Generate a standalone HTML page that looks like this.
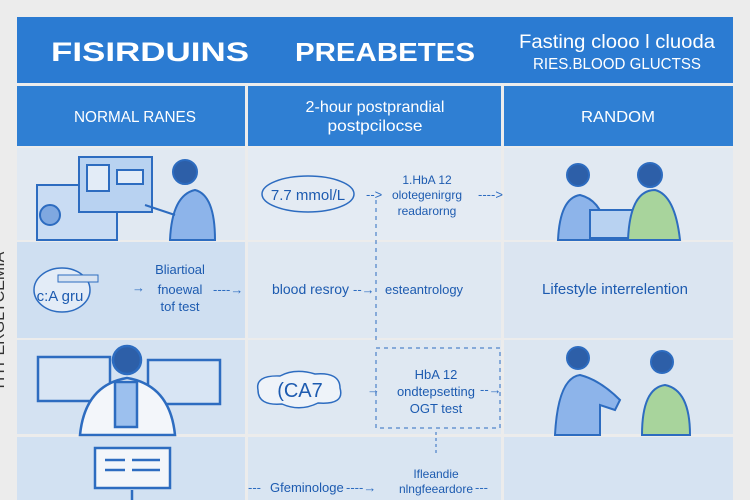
<!DOCTYPE html>
<html><head><style>
html,body{margin:0;padding:0;background:#ececec;width:750px;height:500px;overflow:hidden}
svg{display:block}
text{font-family:"Liberation Sans",sans-serif}
</style></head><body>
<svg width="750" height="500" viewBox="0 0 750 500">
<rect width="750" height="500" fill="#ececec"/>
<rect x="17" y="17" width="716" height="66" fill="#2b7bd2"/>
<rect x="17" y="86" width="228" height="60" fill="#2f7fd3"/>
<rect x="248" y="86" width="253" height="60" fill="#2f7fd3"/>
<rect x="504" y="86" width="229" height="60" fill="#2f7fd3"/>
<text x="150" y="61" fill="#fff" font-size="27" font-weight="bold" text-anchor="middle" textLength="198" lengthAdjust="spacingAndGlyphs">FISIRDUINS</text>
<text x="385" y="61" fill="#fff" font-size="26" font-weight="bold" text-anchor="middle" textLength="180" lengthAdjust="spacingAndGlyphs">PREABETES</text>
<text x="617" y="48" fill="#fff" font-size="19" text-anchor="middle" textLength="196" lengthAdjust="spacingAndGlyphs">Fasting clooo l cluoda</text>
<text x="617" y="69" fill="#fff" font-size="16" text-anchor="middle" textLength="168" lengthAdjust="spacingAndGlyphs">RIES.BLOOD GLUCTSS</text>
<text x="135" y="122" fill="#fff" font-size="16" text-anchor="middle" textLength="122" lengthAdjust="spacingAndGlyphs">NORMAL RANES</text>
<text x="375" y="112" fill="#fff" font-size="16" text-anchor="middle" textLength="139" lengthAdjust="spacingAndGlyphs">2-hour postprandial</text>
<text x="375" y="131" fill="#fff" font-size="16" text-anchor="middle" textLength="95" lengthAdjust="spacingAndGlyphs">postpcilocse</text>
<text x="618" y="122" fill="#fff" font-size="16" text-anchor="middle" textLength="74" lengthAdjust="spacingAndGlyphs">RANDOM</text>
<g>
<rect x="17" y="148" width="228" height="92" fill="#e1e9f2"/>
<rect x="248" y="148" width="253" height="92" fill="#e4ebf3"/>
<rect x="504" y="148" width="229" height="92" fill="#e1e9f2"/>
<rect x="17" y="242" width="228" height="96" fill="#cfdff1"/>
<rect x="248" y="242" width="253" height="96" fill="#dfe8f2"/>
<rect x="504" y="242" width="229" height="96" fill="#dbe5f1"/>
<rect x="17" y="340" width="228" height="94" fill="#d4e2f2"/>
<rect x="248" y="340" width="253" height="94" fill="#dfe8f2"/>
<rect x="504" y="340" width="229" height="94" fill="#dce6f1"/>
<rect x="17" y="437" width="228" height="63" fill="#d2e1f2"/>
<rect x="248" y="437" width="253" height="63" fill="#d9e5f2"/>
<rect x="504" y="437" width="229" height="63" fill="#d6e3f2"/>
</g>
<text transform="translate(4,320) rotate(-90)" font-size="16" fill="#333" text-anchor="middle">HYPERGLYCEMIA</text>
<g stroke="#2d6cc0" stroke-width="2" fill="#c9dcf3">
<rect x="37" y="185" width="80" height="55"/>
<rect x="79" y="157" width="73" height="55" fill="#b8d2f1"/>
<rect x="87" y="165" width="22" height="26" fill="#e3ecf7"/>
<rect x="117" y="170" width="26" height="14" fill="#e3ecf7"/>
<circle cx="50" cy="215" r="10" fill="#7fa8e0"/>
<circle cx="185" cy="172" r="12" fill="#2d5fa8"/>
<path d="M170 240 Q172 195 195 190 Q215 195 215 240 Z" fill="#8db4ea"/>
<path d="M145 205 L175 215" fill="none"/>
</g>
<ellipse cx="308" cy="194" rx="46" ry="18" fill="none" stroke="#2d6cc0" stroke-width="1.5"/>
<text x="308" y="200" font-size="15" fill="#1d5bb0" text-anchor="middle">7.7 mmol/L</text>
<text x="366" y="199" font-size="13" fill="#2d6cc0">--&gt;</text>
<text x="427" y="184" font-size="12" fill="#1d5bb0" text-anchor="middle">1.HbA 12</text>
<text x="427" y="199" font-size="12" fill="#1d5bb0" text-anchor="middle">olotegenirgrg</text>
<text x="427" y="215" font-size="12" fill="#1d5bb0" text-anchor="middle">readarorng</text>
<text x="478" y="199" font-size="13" fill="#2d6cc0">----&gt;</text>
<line x1="376" y1="200" x2="376" y2="340" stroke="#2d6cc0" stroke-dasharray="4,4"/>
<g stroke="#2d6cc0" stroke-width="2">
<circle cx="578" cy="175" r="11" fill="#2d5fa8"/>
<path d="M558 240 Q560 198 580 195 Q600 200 605 225 L630 225 L630 240 Z" fill="#8db4ea"/>
<rect x="590" y="210" width="50" height="28" fill="#b8d2f1"/>
<circle cx="650" cy="175" r="12" fill="#2d5fa8"/>
<path d="M628 240 Q630 190 655 190 Q675 195 680 240 Z" fill="#a8d49c"/>
</g>
<ellipse cx="62" cy="290" rx="28" ry="22" fill="#e3ecf7" stroke="#2d6cc0" stroke-width="1.5"/>
<rect x="58" y="275" width="40" height="7" fill="#d8e3f1" stroke="#2d6cc0"/>
<text x="60" y="301" font-size="15" fill="#1d5bb0" text-anchor="middle">c:A gru</text>
<text x="132" y="292" font-size="13" fill="#2d6cc0">→</text>
<text x="180" y="274" font-size="13" fill="#1d5bb0" text-anchor="middle">Bliartioal</text>
<text x="180" y="294" font-size="13" fill="#1d5bb0" text-anchor="middle">fnoewal</text>
<text x="180" y="311" font-size="13" fill="#1d5bb0" text-anchor="middle">tof test</text>
<text x="213" y="294" font-size="13" fill="#2d6cc0">----→</text>
<text x="272" y="294" font-size="14" fill="#1d5bb0">blood resroy</text>
<text x="353" y="294" font-size="13" fill="#2d6cc0">--→</text>
<text x="385" y="294" font-size="13" fill="#1d5bb0">esteantrology</text>
<text x="615" y="294" font-size="15" fill="#1d5bb0" text-anchor="middle">Lifestyle interrelention</text>
<g stroke="#2d6cc0" stroke-width="2.5" fill="#d8e5f4">
<rect x="38" y="357" width="72" height="44"/>
<rect x="148" y="360" width="72" height="44"/>
<circle cx="127" cy="360" r="14" fill="#2d5fa8"/>
<path d="M80 435 Q85 385 127 378 Q170 385 175 435 Z" fill="#f3f6fa"/>
<rect x="115" y="382" width="22" height="45" fill="#9cc0ee"/>
</g>
<path d="M258 390 Q255 375 280 376 Q295 368 315 374 Q340 372 340 388 Q345 405 318 403 Q300 412 282 404 Q258 406 258 390 Z" fill="#eef3f9" stroke="#2d6cc0" stroke-width="1.5"/>
<text x="300" y="397" font-size="20" fill="#1d5bb0" text-anchor="middle">(CA7</text>
<text x="367" y="394" font-size="13" fill="#2d6cc0">→</text>
<rect x="376" y="348" width="124" height="80" fill="none" stroke="#2d6cc0" stroke-dasharray="4,4"/>
<text x="436" y="379" font-size="13" fill="#1d5bb0" text-anchor="middle">HbA 12</text>
<text x="436" y="396" font-size="13" fill="#1d5bb0" text-anchor="middle">ondtepsetting</text>
<text x="436" y="413" font-size="13" fill="#1d5bb0" text-anchor="middle">OGT test</text>
<text x="480" y="394" font-size="13" fill="#2d6cc0">--→</text>
<g stroke="#2d6cc0" stroke-width="2">
<circle cx="578" cy="358" r="11" fill="#2d5fa8"/>
<path d="M555 435 Q558 378 580 375 Q600 380 620 400 L615 410 L600 405 L600 435 Z" fill="#8db4ea"/>
<circle cx="662" cy="362" r="11" fill="#2d5fa8"/>
<path d="M642 435 Q642 388 665 385 Q690 390 690 435 Z" fill="#a8d49c"/>
</g>
<line x1="436" y1="432" x2="436" y2="455" stroke="#2d6cc0" stroke-dasharray="3,3"/>
<g stroke="#2d6cc0" stroke-width="2.5" fill="#f3f6fa">
<rect x="95" y="448" width="75" height="40"/>
<line x1="105" y1="460" x2="125" y2="460"/><line x1="132" y1="460" x2="160" y2="460"/>
<line x1="105" y1="470" x2="125" y2="470"/><line x1="132" y1="470" x2="160" y2="470"/>
<line x1="132" y1="490" x2="132" y2="500"/>
</g>
<text x="248" y="492" font-size="13" fill="#2d6cc0">---</text>
<text x="270" y="492" font-size="13" fill="#1d5bb0">Gfeminologe</text>
<text x="346" y="492" font-size="13" fill="#2d6cc0">----→</text>
<text x="436" y="478" font-size="12" fill="#1d5bb0" text-anchor="middle">Ifleandie</text>
<text x="436" y="493" font-size="12" fill="#1d5bb0" text-anchor="middle">nlngfeeardore</text>
<text x="475" y="492" font-size="13" fill="#2d6cc0">---</text>
</svg>
</body></html>
